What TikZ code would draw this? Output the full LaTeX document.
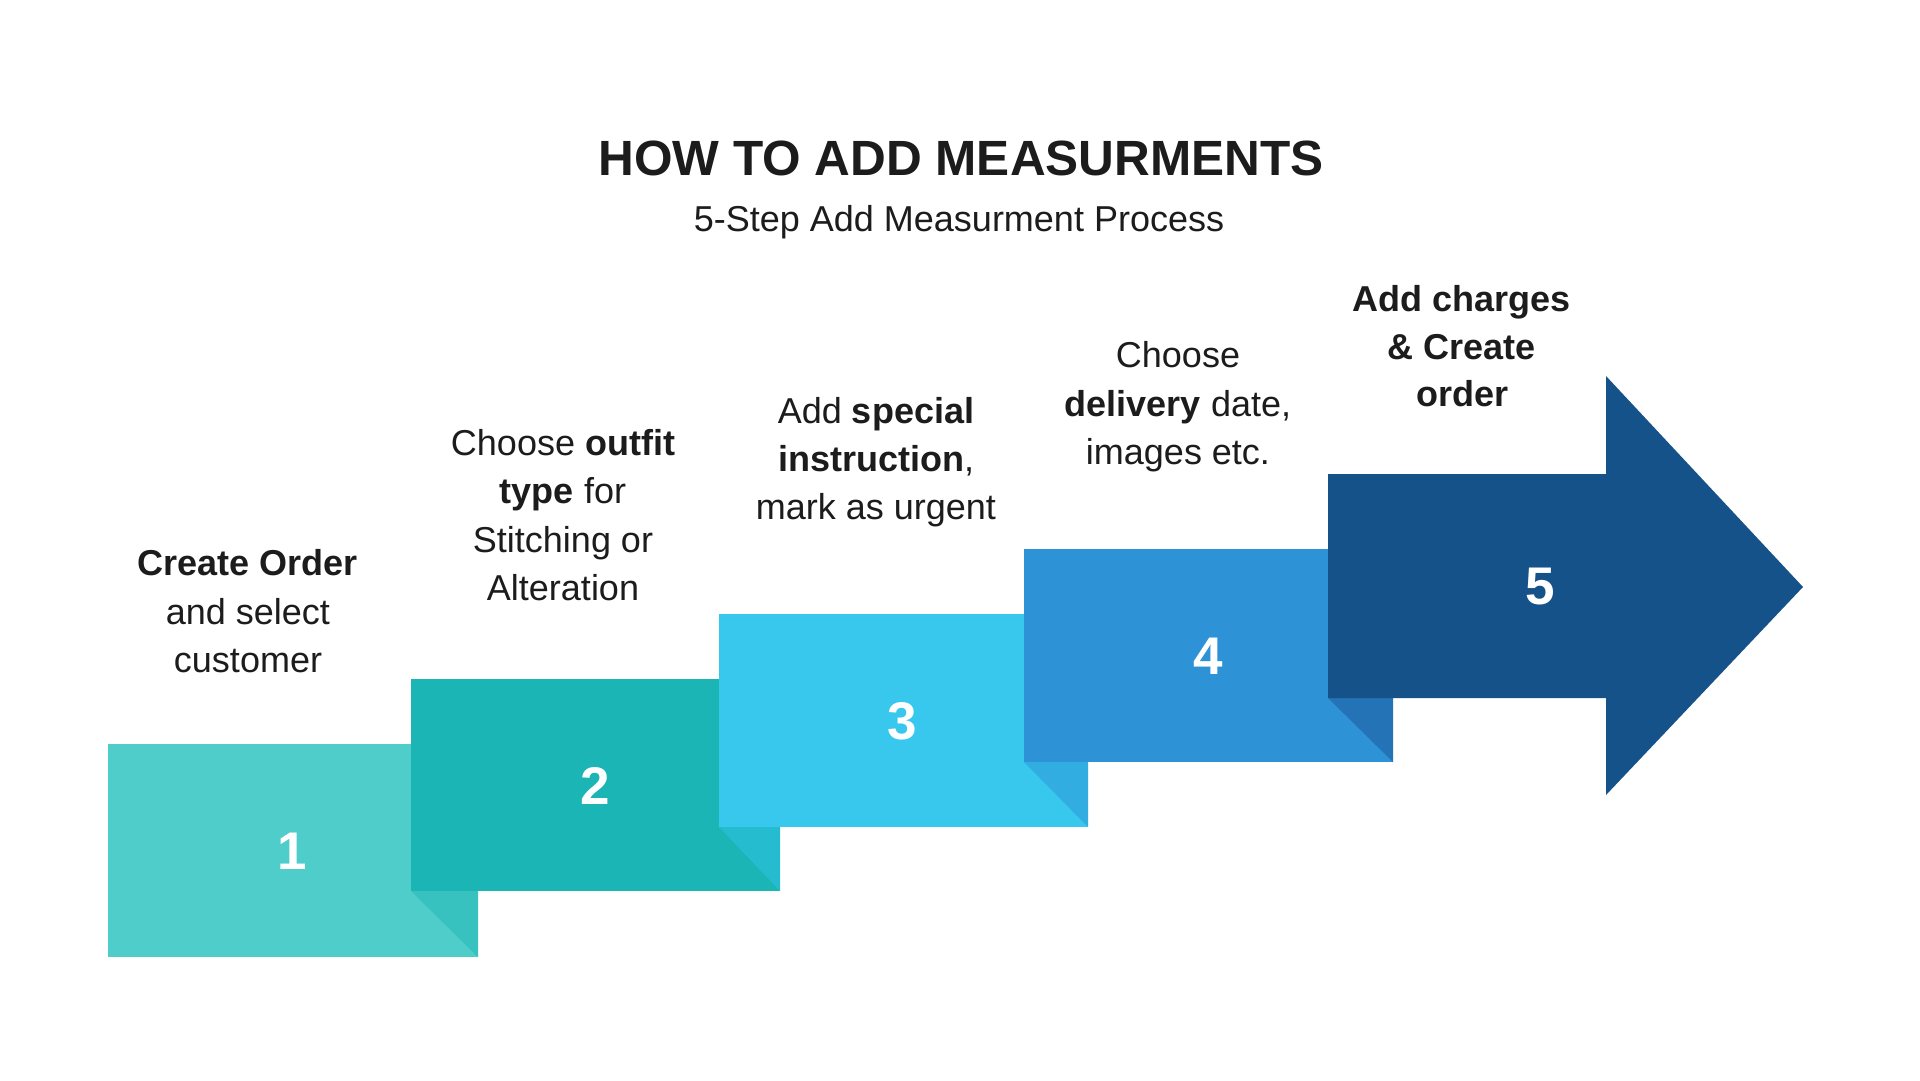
\documentclass[tikz,border=0pt]{standalone}
\usepackage{fontspec}
\setmainfont{Liberation Sans}
\definecolor{ink}{HTML}{1C1C1C}
\definecolor{boxA}{HTML}{4ECDCA}
\definecolor{boxB}{HTML}{1AB5B4}
\definecolor{boxC}{HTML}{38C8EE}
\definecolor{boxD}{HTML}{2E92D6}
\definecolor{boxE}{HTML}{155289}
\definecolor{foldA}{HTML}{37C1BF}
\definecolor{foldB}{HTML}{26BCCF}
\definecolor{foldC}{HTML}{32ADE2}
\definecolor{foldD}{HTML}{2373B6}
\begin{document}
\begin{tikzpicture}[x=1pt,y=-1pt,
  txt/.style={anchor=base,inner sep=0pt,text=ink,font=\fontsize{36}{44}\selectfont},
  num/.style={inner sep=0pt,text=white,font=\fontsize{53}{60}\selectfont\bfseries}]
\fill[white] (0,0) rectangle (1920,1080);
\useasboundingbox (0,0) rectangle (1920,1080);

% title
\node[anchor=base,inner sep=0pt,text=ink,font=\fontsize{49.5}{56}\selectfont\bfseries] (title) at (961,175) {HOW TO ADD MEASURMENTS};
\node[anchor=base,inner sep=0pt,text=ink,font=\fontsize{36}{42}\selectfont] (subtitle) at (959,231) {5-Step Add Measurment Process};

% steps
\fill[boxA] (108,744) rectangle (478,957);
\fill[foldA] (411,891) -- (478,891) -- (478,957) -- cycle;
\fill[boxB] (411,679) rectangle (780,891);
\fill[foldB] (719,827) -- (780,827) -- (780,891) -- cycle;
\fill[boxC] (719,614) rectangle (1088,827);
\fill[foldC] (1024,762) -- (1088,762) -- (1088,827) -- cycle;
\fill[boxD] (1024,549) rectangle (1393,762);
\fill[foldD] (1328,698) -- (1393,698) -- (1393,762) -- cycle;
\fill[boxE] (1328,474) -- (1606,474) -- (1606,376) -- (1803,587) -- (1606,795) -- (1606,698) -- (1328,698) -- cycle;

% numbers
\node[num] (n1) at (292,851) {1};
\node[num] (n2) at (595,786) {2};
\node[num] (n3) at (902,721) {3};
\node[num] (n4) at (1208,656) {4};
\node[num] (n5) at (1540,587) {5};

% step texts
\node[txt] (a1) at (248,575) {\textbf{Create Order}};
\node[txt] (a2) at (248,624) {and select};
\node[txt] (a3) at (248,672) {customer};

\node[txt] (b1) at (563,455) {Choose \textbf{outfit}};
\node[txt] (b2) at (563,503) {\textbf{type} for};
\node[txt] (b3) at (563,552) {Stitching or};
\node[txt] (b4) at (563,600) {Alteration};

\node[txt] (c1) at (876,423) {Add \textbf{special}};
\node[txt] (c2) at (876,471) {\textbf{instruction},};
\node[txt] (c3) at (876,519) {mark as urgent};

\node[txt] (d1) at (1178,367) {Choose};
\node[txt] (d2) at (1178,416) {\textbf{delivery} date,};
\node[txt] (d3) at (1178,464) {images etc.};

\node[txt] (e1) at (1462,311) {\textbf{Add charges}};
\node[txt] (e2) at (1462,359) {\textbf{\& Create}};
\node[txt] (e3) at (1462,406) {\textbf{order}};
\end{tikzpicture}
\end{document}
